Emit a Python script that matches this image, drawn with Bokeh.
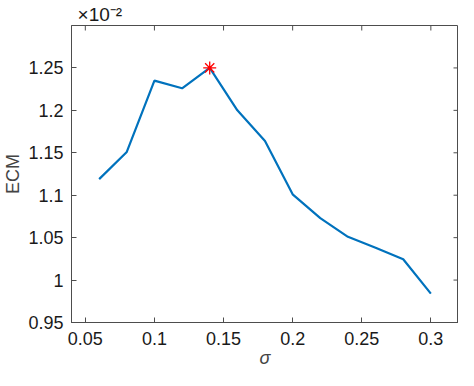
import math
from bokeh.plotting import figure
from bokeh.models import LinearAxis, FixedTicker, CustomJSTickFormatter, Range1d
from bokeh.embed import file_html
from bokeh.resources import INLINE

# data (ECM in units of 1e-2)
sigma = [0.06, 0.08, 0.10, 0.12, 0.14, 0.16, 0.18, 0.20, 0.22, 0.24, 0.26, 0.28, 0.30]
ecm = [1.119, 1.151, 1.235, 1.226, 1.250, 1.200, 1.164, 1.101, 1.073, 1.051, 1.038, 1.0245, 0.984]
best_sigma = [0.14]
best_ecm = [1.250]
x_ticks = [0.05, 0.10, 0.15, 0.20, 0.25, 0.30]
y_ticks = [0.95, 1.00, 1.05, 1.10, 1.15, 1.20, 1.25]
x_lo, x_hi = 0.04, 0.32
y_lo, y_hi = 0.95, 1.30
exponent_text = "×10⁻²"
exponent_anchor = [0.0605]   # where the exponent note sits along the top edge

FONT = "Liberation Sans"
AX = "#4d4d4d"
FS = "18px"

p = figure(width=458, height=370, output_backend="svg", toolbar_location=None,
           x_range=Range1d(x_lo, x_hi), y_range=Range1d(y_lo, y_hi),
           x_axis_location=None, y_axis_location=None,
           min_border_left=64, min_border_right=0, min_border_top=25, min_border_bottom=40)
p.grid.visible = False
p.outline_line_color = AX
p.outline_line_width = 1
p.background_fill_color = "white"
p.border_fill_color = "white"

fmt = CustomJSTickFormatter(code="return parseFloat(tick.toFixed(2)).toString();")

def mk():
    ax = LinearAxis()
    ax.major_tick_in = 5
    ax.major_tick_out = 0
    ax.minor_tick_in = 0
    ax.minor_tick_out = 0
    ax.axis_line_color = AX
    ax.major_tick_line_color = AX
    ax.major_label_text_font = FONT
    ax.major_label_text_color = "#1a1a1a"
    ax.major_label_text_font_size = FS
    ax.formatter = fmt
    return ax

bx = mk(); bx.ticker = FixedTicker(ticks=x_ticks); bx.major_label_standoff = 9
bx.axis_label = "σ"
bx.axis_label_text_font = FONT
bx.axis_label_text_font_style = "italic"
bx.axis_label_text_font_size = "18px"
bx.axis_label_standoff = 0
ly = mk(); ly.ticker = FixedTicker(ticks=y_ticks); ly.major_label_standoff = 8
ly.axis_label = "ECM"
ly.axis_label_text_font = FONT
ly.axis_label_text_font_style = "normal"
ly.axis_label_text_font_size = "18px"
ly.axis_label_standoff = 2

# exponent note above the frame, carried by a bare top axis
tx = LinearAxis(ticker=FixedTicker(ticks=exponent_anchor),
                formatter=CustomJSTickFormatter(code="return %r;" % exponent_text))
tx.axis_line_color = None
tx.major_tick_line_color = None
tx.minor_tick_line_color = None
tx.major_tick_in = 0
tx.major_tick_out = 0
tx.major_label_standoff = 1
tx.major_label_text_font = FONT
tx.major_label_text_font_size = "19px"
tx.major_label_text_color = "#1a1a1a"

p.add_layout(bx, "below")
p.add_layout(ly, "left")
p.add_layout(tx, "above")

# inward ticks on top and right edges (half of each dash is clipped by the frame)
p.scatter(x_ticks, [y_hi] * len(x_ticks), marker="dash", size=10, angle=math.pi / 2,
          line_color=AX, line_width=1)
p.scatter([x_hi] * len(y_ticks), y_ticks, marker="dash", size=10,
          line_color=AX, line_width=1)

p.line(sigma, ecm, line_color="#0072BD", line_width=2.2)
p.scatter(best_sigma, best_ecm, marker="asterisk", size=13, line_color="#ff0000", line_width=1.3)

open("out.html", "w").write(file_html(p, INLINE))
